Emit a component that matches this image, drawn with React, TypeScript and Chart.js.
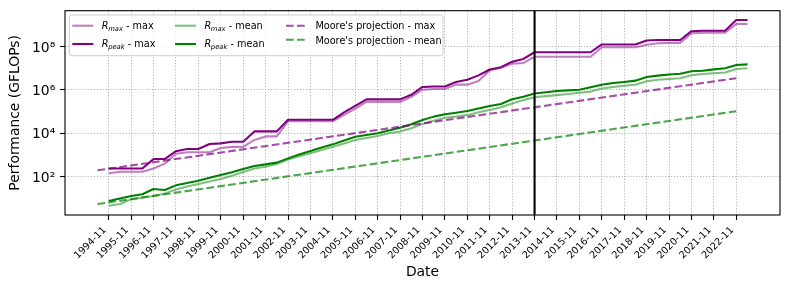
import React, { useEffect, useRef } from "react";
import { Chart, registerables } from "chart.js";

Chart.register(...registerables);

// ---------- data ----------
const DATES = [
  "1994-06", "1994-11", "1995-06", "1995-11", "1996-06", "1996-11", "1997-06", "1997-11",
  "1998-06", "1998-11", "1999-06", "1999-11", "2000-06", "2000-11", "2001-06", "2001-11",
  "2002-06", "2002-11", "2003-06", "2003-11", "2004-06", "2004-11", "2005-06", "2005-11",
  "2006-06", "2006-11", "2007-06", "2007-11", "2008-06", "2008-11", "2009-06", "2009-11",
  "2010-06", "2010-11", "2011-06", "2011-11", "2012-06", "2012-11", "2013-06", "2013-11",
  "2014-06", "2014-11", "2015-06", "2015-11", "2016-06", "2016-11", "2017-06", "2017-11",
  "2018-06", "2018-11", "2019-06", "2019-11", "2020-06", "2020-11", "2021-06", "2021-11",
  "2022-06", "2022-11", "2023-06",
];

const X_TICK_DATES = [
  "1994-11", "1995-11", "1996-11", "1997-11", "1998-11", "1999-11", "2000-11", "2001-11",
  "2002-11", "2003-11", "2004-11", "2005-11", "2006-11", "2007-11", "2008-11", "2009-11",
  "2010-11", "2011-11", "2012-11", "2013-11", "2014-11", "2015-11", "2016-11", "2017-11",
  "2018-11", "2019-11", "2020-11", "2021-11", "2022-11",
];

const VLINE_DATE = "2013-11";

const Y_TICKS = [1e2, 1e4, 1e6, 1e8];
const Y_TICK_LABELS = ["10\u00B2", "10\u2074", "10\u2076", "10\u2078"];

// GFLOPs, one value per date (null = no point)
const RMAX_MAX = [
  null, 143.4, 170, 170, 170, 240, 400, 1150,
  1338, 1338, 1338, 2121, 2379, 2379, 4938, 7226,
  7226, 35860, 35860, 35860, 35860, 35860, 70720, 136800,
  280600, 280600, 280600, 280600, 478200, 1026000, 1105000, 1105000,
  1759000, 1759000, 2566000, 8162000, 10510000, 16324751, 17590000, 33862700,
  33862700, 33862700, 33862700, 33862700, 33862700, 93014594, 93014594, 93014594,
  93014594, 122300000, 143500000, 148600000, 148600000, 415530000, 442010000, 442010000,
  442010000, 1102000000, 1102000000,
];

const RPEAK_MAX = [
  null, 240, 240, 240, 240, 650, 650, 1500,
  1900, 1900, 3200, 3450, 4100, 4100, 12288, 12288,
  12288, 42000, 42000, 42000, 42000, 42000, 91750, 183500,
  367000, 367000, 367000, 367000, 596400, 1375776, 1456704, 1456704,
  2331000, 2984300, 4701000, 8773630, 11280384, 20132659, 27112550, 54902400,
  54902400, 54902400, 54902400, 54902400, 54902400, 125435904, 125435904, 125435904,
  125435904, 190000000, 200794880, 200794880, 200794880, 513854670, 537212000, 537212000,
  537212000, 1685650000, 1685650000,
];

const RMAX_MEAN = [
  null, 4.6, 5.5, 9, 11, 12.9, 17, 26,
  35, 46, 60, 78, 110, 165, 240, 290,
  385, 620, 870, 1200, 1700, 2400, 3400, 4900,
  6100, 7500, 10000, 12000, 17000, 27000, 38000, 52000,
  59000, 69000, 93000, 120000, 158000, 240000, 340000, 457000,
  520000, 580000, 650000, 740000, 840000, 1170000, 1380000, 1560000,
  1730000, 2500000, 2950000, 3200000, 3450000, 4800000, 5400000, 5900000,
  6400000, 9200000, 10000000,
];

const RPEAK_MEAN = [
  null, 7.6, 10, 12.9, 15.5, 27, 24.5, 40,
  51, 65, 89, 120, 160, 225, 310, 370,
  445, 700, 1050, 1550, 2200, 3100, 4700, 6900,
  8300, 10000, 13500, 18000, 26000, 41000, 59000, 76000,
  89000, 107000, 141000, 182000, 224000, 372000, 490000, 690000,
  790000, 890000, 955000, 1020000, 1320000, 1740000, 2090000, 2340000,
  2690000, 3980000, 4570000, 5130000, 5620000, 7240000, 7760000, 8900000,
  10000000, 14100000, 15100000,
];

// Moore's projections: straight lines on the log axis, start and end values
const MOORE_DATES = ["1994-06", "2022-11"];
const MOORE_MAX = [197, 3500000];
const MOORE_MEAN = [5.5, 105000];

// ---------- styling ----------
const FONT = "'DejaVu Sans', sans-serif";
const DASH = [7.7, 3.3];
const GRID_DASH = [1.1, 1.8];

const SERIES = [
  { label: "R_{max} - max", points: DATES.map((d, i) => ({ x: i, y: RMAX_MAX[i] })), color: "rgba(128,0,128,0.5)", dash: [] as number[] },
  { label: "R_{peak} - max", points: DATES.map((d, i) => ({ x: i, y: RPEAK_MAX[i] })), color: "#800080", dash: [] as number[] },
  { label: "R_{max} - mean", points: DATES.map((d, i) => ({ x: i, y: RMAX_MEAN[i] })), color: "rgba(0,128,0,0.5)", dash: [] as number[] },
  { label: "R_{peak} - mean", points: DATES.map((d, i) => ({ x: i, y: RPEAK_MEAN[i] })), color: "#008000", dash: [] as number[] },
  { label: "Moore's projection - max", points: MOORE_DATES.map((d, i) => ({ x: DATES.indexOf(d), y: MOORE_MAX[i] })), color: "rgba(128,0,128,0.7)", dash: DASH },
  { label: "Moore's projection - mean", points: MOORE_DATES.map((d, i) => ({ x: DATES.indexOf(d), y: MOORE_MEAN[i] })), color: "rgba(0,128,0,0.7)", dash: DASH },
].map((s) => ({ ...s, points: s.points.filter((p) => p.y != null) }));

// legend placement (relative to chart area top-left)
const LEGEND_FONT_PX = 9.7;
const LEGEND_BOX = { dx: 4.3, dy: 4.3, w: 373.7, h: 40.7, r: 2.5 };
const LEGEND_HANDLE = 21;
const LEGEND_TEXT_GAP = 29.4;
const LEGEND_SLOTS = [
  { x: 7.3, lineY: 15.0, baseY: 18.6 },
  { x: 7.3, lineY: 33.3, baseY: 36.6 },
  { x: 110, lineY: 15.0, baseY: 18.6 },
  { x: 110, lineY: 33.3, baseY: 36.6 },
  { x: 221, lineY: 15.0, baseY: 18.6 },
  { x: 221, lineY: 29.0, baseY: 33.3 },
];

function drawMathLabel(ctx: CanvasRenderingContext2D, label: string, x: number, y: number) {
  const F = LEGEND_FONT_PX;
  ctx.fillStyle = "#000";
  ctx.textAlign = "left";
  ctx.textBaseline = "alphabetic";
  const m = /^([A-Za-z])_\{([^}]+)\}(.*)$/.exec(label);
  if (m) {
    ctx.font = `italic ${F}px ${FONT}`;
    ctx.fillText(m[1], x, y);
    let cx = x + ctx.measureText(m[1]).width;
    ctx.font = `italic ${F * 0.7}px ${FONT}`;
    ctx.fillText(m[2], cx - 0.3, y + 1.6);
    cx += ctx.measureText(m[2]).width - 0.3;
    ctx.font = `${F}px ${FONT}`;
    ctx.fillText(m[3], cx, y);
  } else {
    ctx.font = `${F}px ${FONT}`;
    ctx.fillText(label, x, y);
  }
}

const decorPlugin = {
  id: "decor",
  afterDatasetsDraw(chart: any) {
    const { ctx, chartArea: a, scales } = chart;
    const x = scales.x.getPixelForValue(DATES.indexOf(VLINE_DATE));
    ctx.save();
    ctx.strokeStyle = "#000";
    ctx.lineWidth = 2.1;
    ctx.beginPath();
    ctx.moveTo(x, a.top);
    ctx.lineTo(x, a.bottom);
    ctx.stroke();
    ctx.lineWidth = 1.1;
    ctx.strokeRect(a.left, a.top, a.right - a.left, a.bottom - a.top);
    ctx.restore();
  },
  afterDraw(chart: any) {
    const { ctx, chartArea: a } = chart;
    const L = a.left, T = a.top;
    ctx.save();
    ctx.beginPath();
    const bx = L + LEGEND_BOX.dx, by = T + LEGEND_BOX.dy;
    if ((ctx as any).roundRect) {
      (ctx as any).roundRect(bx, by, LEGEND_BOX.w, LEGEND_BOX.h, LEGEND_BOX.r);
    } else {
      ctx.rect(bx, by, LEGEND_BOX.w, LEGEND_BOX.h);
    }
    ctx.fillStyle = "rgba(255,255,255,0.8)";
    ctx.fill();
    ctx.strokeStyle = "#cccccc";
    ctx.lineWidth = 1;
    ctx.stroke();
    chart.data.datasets.forEach((ds: any, i: number) => {
      const slot = LEGEND_SLOTS[i];
      if (!slot) return;
      const sx = L + slot.x;
      const sy = T + slot.lineY;
      ctx.save();
      ctx.strokeStyle = ds.borderColor;
      ctx.lineWidth = ds.borderWidth;
      ctx.setLineDash(ds.borderDash || []);
      ctx.beginPath();
      ctx.moveTo(sx, sy);
      ctx.lineTo(sx + LEGEND_HANDLE, sy);
      ctx.stroke();
      ctx.restore();
      drawMathLabel(ctx, ds.label, sx + LEGEND_TEXT_GAP, T + slot.baseY);
    });
    ctx.restore();
  },
};

export default function App() {
  const ref = useRef<HTMLCanvasElement | null>(null);

  useEffect(() => {
    document.body.style.margin = "0";
    document.body.style.overflow = "hidden";
    if (!ref.current) return;

    const allY = SERIES.flatMap((s) => s.points.map((p) => p.y as number));
    const allX = SERIES.flatMap((s) => s.points.map((p) => p.x));
    const lo = Math.log10(Math.min(...allY));
    const hi = Math.log10(Math.max(...allY));
    const yPad = 0.05 * (hi - lo);
    const xLo = Math.min(...allX);
    const xHi = Math.max(...allX);
    const xPad = 0.05 * (xHi - xLo);

    const gridCommon = {
      color: "#b0b0b0",
      lineWidth: 1,
      drawTicks: true,
      tickColor: "#000",
      tickLength: 4.9,
      tickWidth: 1.1,
      tickBorderDash: [] as number[],
    };

    const chart = new Chart(ref.current, {
      type: "line",
      data: {
        datasets: SERIES.map((s, i) => ({
          label: s.label,
          data: s.points as any,
          borderColor: s.color,
          backgroundColor: s.color,
          borderWidth: 2.08,
          borderDash: s.dash,
          borderJoinStyle: "round" as const,
          pointRadius: 0,
          pointHoverRadius: 0,
          tension: 0,
          fill: false,
          order: 10 - i,
        })),
      },
      options: {
        animation: false,
        responsive: false,
        devicePixelRatio: 1,
        events: [],
        layout: { padding: { left: 0, right: 10, top: 10.7, bottom: 0 } },
        plugins: {
          legend: { display: false },
          tooltip: { enabled: false },
        },
        scales: {
          x: {
            type: "linear",
            bounds: "data",
            min: xLo - xPad,
            max: xHi + xPad,
            afterBuildTicks: (s: any) => {
              s.ticks = X_TICK_DATES.map((d) => ({ value: DATES.indexOf(d) }));
            },
            afterFit: (s: any) => {
              s.height = 75;
              s.paddingLeft = 0;
              s.paddingRight = 0;
            },
            ticks: {
              autoSkip: false,
              minRotation: 45,
              maxRotation: 45,
              padding: 4.7,
              labelOffset: -4,
              color: "#000",
              font: { family: FONT, size: 9.7 },
              callback: (v: any) => DATES[Math.round(Number(v))] ?? "",
            },
            grid: gridCommon,
            border: { display: false, dash: GRID_DASH },
            title: {
              display: true,
              text: "Date",
              color: "#000",
              font: { family: FONT, size: 13.9 },
              padding: { top: 0, bottom: 9.7 },
            },
          },
          y: {
            type: "logarithmic",
            bounds: "data",
            min: Math.pow(10, lo - yPad),
            max: Math.pow(10, hi + yPad),
            afterBuildTicks: (s: any) => {
              s.ticks = Y_TICKS.map((v) => ({ value: v }));
            },
            afterFit: (s: any) => {
              s.width = 65;
              s.paddingTop = 0;
              s.paddingBottom = 0;
            },
            ticks: {
              autoSkip: false,
              padding: 4.9,
              labelOffset: 1.5,
              color: "#000",
              font: { family: FONT, size: 13.9 },
              callback: (v: any) => {
                const k = Y_TICKS.findIndex((t) => Math.abs(t - Number(v)) / t < 1e-6);
                return k >= 0 ? Y_TICK_LABELS[k] : "";
              },
            },
            grid: gridCommon,
            border: { display: false, dash: GRID_DASH },
            title: {
              display: true,
              text: "Performance (GFLOPs)",
              color: "#000",
              font: { family: FONT, size: 13.9 },
              padding: { top: 7.4, bottom: 0 },
            },
          },
        },
      },
      plugins: [decorPlugin],
    });

    return () => chart.destroy();
  }, []);

  return <canvas ref={ref} width={790} height={290} style={{ display: "block" }} />;
}
